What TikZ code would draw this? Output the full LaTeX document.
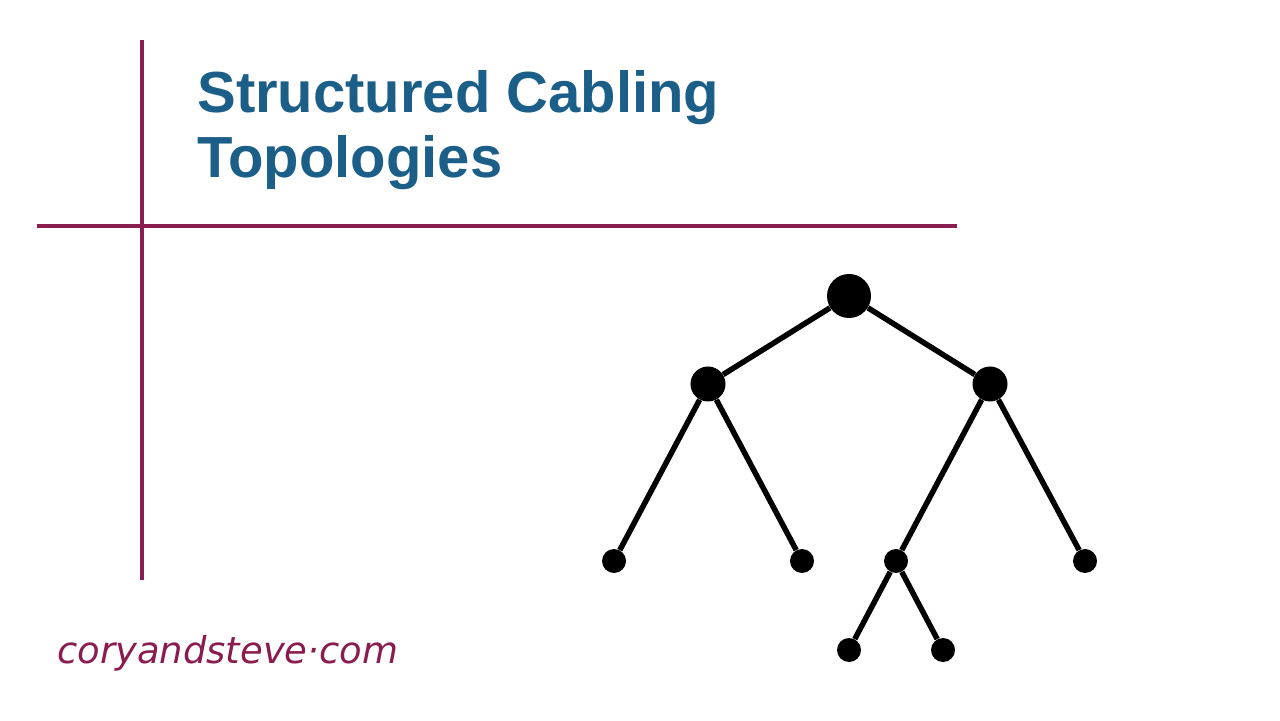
\documentclass[tikz,border=0pt]{standalone}
\usepackage{fontspec}
\setmainfont{Liberation Sans}
\newfontfamily\logofont{DejaVu Sans}
\usetikzlibrary{positioning}
\definecolor{titleblue}{HTML}{1B5E88}
\definecolor{maroon}{HTML}{8A1D50}

\tikzset{
  bignode/.style={circle,fill=black,inner sep=0pt,minimum size=0.88cm},
  midnode/.style={circle,fill=black,inner sep=0pt,minimum size=0.7cm},
  leafnode/.style={circle,fill=black,inner sep=0pt,minimum size=0.48cm},
  cable/.style={line width=0.11cm,black},
  rule/.style={line width=0.08cm,maroon}
}

\begin{document}
\begin{tikzpicture}
\useasboundingbox (0,0) rectangle (25.6,14.4);
% frame lines
\draw[rule] (2.84,13.6) -- (2.84,2.8);
\draw[rule] (0.74,9.88) -- (19.14,9.88);
% title
\node[anchor=base west,text=titleblue,font=\fontsize{33}{37.5}\selectfont\bfseries,align=left,inner sep=0pt] (title) at (3.94,10.84) {Structured Cabling\\Topologies};
% logo
\node[anchor=base west,text=maroon,font=\logofont\itshape\fontsize{21}{24}\selectfont,inner sep=0pt] (logo) at (1.14,1.14) {coryandsteve·com};
% tree
\node[bignode] (root) at (16.98,8.48) {};
\node[midnode] (l) at (14.16,6.72) {};
\node[midnode] (r) at (19.8,6.72) {};
\node[leafnode] (ll) at (12.28,3.18) {};
\node[leafnode] (lr) at (16.04,3.18) {};
\node[leafnode] (rl) at (17.92,3.18) {};
\node[leafnode] (rr) at (21.7,3.18) {};
\node[leafnode] (rll) at (16.98,1.4) {};
\node[leafnode] (rlr) at (18.86,1.4) {};
\draw[cable] (root) -- (l);
\draw[cable] (root) -- (r);
\draw[cable] (l) -- (ll);
\draw[cable] (l) -- (lr);
\draw[cable] (r) -- (rl);
\draw[cable] (r) -- (rr);
\draw[cable] (rl) -- (rll);
\draw[cable] (rl) -- (rlr);
\end{tikzpicture}
\end{document}
